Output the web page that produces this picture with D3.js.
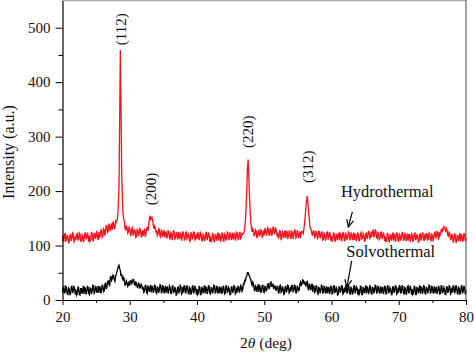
<!DOCTYPE html>
<html>
<head>
<meta charset="utf-8">
<script src="https://cdn.jsdelivr.net/npm/d3@7"></script>
<style>
  body { margin: 0; background: #fff; }
  svg text { font-family: "Liberation Serif", "DejaVu Serif", serif !important; }
</style>
</head>
<body>
<div id="chart"></div>
<script>
// 2theta grid: 20..80 deg, sampled every 0.1 deg
var thetaStart = 20, thetaStep = 0.1;

// Hydrothermal pattern (red), one row = 2 deg
var hydrothermal = [
  119,109,108,121,122,107,111,120,116,105,106,119,120,108,113,123,121,107,109,118,
  111,121,122,109,113,123,121,108,108,120,118,106,110,122,123,111,114,124,119,107,
  118,108,111,124,123,110,109,122,122,112,120,127,113,110,125,114,118,128,129,115,
  117,131,129,118,126,137,136,124,126,139,138,127,132,141,129,144,141,130,134,145,
  143,146,152,175,205,330,459,360,232,190,158,150,144,130,129,137,132,123,125,134,
  132,119,120,131,133,118,122,130,126,115,116,130,129,117,121,131,129,116,117,128,
  118,127,129,116,120,132,133,127,134,147,155,148,150,152,146,137,131,136,132,124,
  128,118,120,131,130,117,115,128,126,116,122,129,115,124,125,113,117,127,126,114,
  111,124,122,110,117,127,126,112,114,123,124,111,116,125,112,121,123,109,115,126,
  122,110,111,124,125,112,114,122,119,108,109,123,123,111,116,125,124,110,112,121,
  112,123,123,110,114,124,122,109,109,121,119,108,111,123,124,110,115,124,120,107,
  117,106,110,122,121,108,107,120,119,109,116,124,109,121,120,107,112,123,122,109,
  108,121,119,109,114,125,124,111,112,123,122,110,115,124,111,121,122,109,114,124,
  122,111,112,124,124,113,115,122,121,122,124,133,146,170,202,240,258,230,192,165,
  142,132,125,131,128,117,120,129,127,115,116,127,128,117,121,129,127,114,119,128,
  119,131,130,118,122,133,131,119,119,131,130,118,122,134,134,121,124,133,128,117,
  124,113,116,127,126,111,112,126,124,114,121,128,114,126,125,112,117,127,127,113,
  113,126,124,112,119,129,128,114,116,127,126,113,118,126,114,123,126,125,122,131,
  141,155,171,183,191,178,162,148,134,130,128,120,119,127,126,115,117,126,125,113,
  115,126,126,113,116,125,124,110,111,123,121,110,112,124,125,111,116,125,121,109,
  118,107,111,123,122,108,108,121,120,110,117,124,110,122,121,108,113,124,123,109,
  109,122,120,110,115,125,124,111,112,123,122,110,114,124,110,121,121,108,113,123,
  121,109,110,122,124,112,113,122,119,108,109,122,123,112,117,126,125,113,114,125,
  116,127,128,115,119,130,127,114,113,125,122,111,113,124,125,112,115,124,120,108,
  117,106,110,122,121,108,107,120,119,109,116,124,109,121,120,107,112,123,122,109,
  108,121,119,109,114,124,123,110,111,122,121,108,113,122,109,120,120,107,112,122,
  120,108,109,122,123,111,112,121,117,106,107,120,121,109,114,123,122,110,110,121,
  111,122,122,109,113,123,121,110,109,121,119,108,112,124,125,113,117,127,122,110,
  125,118,121,129,130,124,131,135,134,128,126,131,127,118,117,126,121,110,113,122,
  117,107,110,121,120,106,106,119,118,108,115,123,108,120,119,107,111,122,121,108,
  114
];

// Solvothermal pattern (black)
var solvothermal = [
  13,22,24,12,15,25,23,11,10,22,20,9,12,24,25,13,16,26,21,10,
  19,9,12,24,23,10,9,21,21,11,18,26,11,23,22,10,14,25,24,12,
  10,22,21,11,16,27,26,12,14,25,24,13,17,26,13,24,24,12,17,27,
  26,15,16,28,32,20,23,33,31,36,25,40,44,36,39,46,45,37,34,44,
  48,52,57,62,64,58,54,44,48,40,37,41,36,27,28,35,32,25,27,34,
  27,35,36,30,32,38,37,28,27,34,30,24,23,31,30,22,23,30,26,19,
  24,14,16,27,27,14,12,25,24,15,21,28,14,25,25,13,17,27,26,14,
  12,24,23,13,18,28,27,14,15,26,25,12,17,26,13,23,24,12,16,26,
  23,12,12,25,26,14,15,24,20,9,10,23,24,12,17,27,25,11,13,24,
  14,26,25,12,16,27,24,12,11,23,21,10,13,25,26,12,17,26,22,10,
  20,10,13,25,24,10,10,23,22,12,19,27,12,24,23,11,15,26,25,12,
  11,23,22,12,17,27,26,13,14,25,24,12,16,25,12,22,23,11,15,26,
  23,11,12,26,26,14,15,23,20,10,10,24,24,13,17,26,25,11,13,23,
  14,25,24,15,17,27,25,16,19,30,29,36,35,42,44,50,50,46,45,40,
  38,30,27,33,30,20,16,26,24,15,21,29,15,26,24,13,17,27,27,15,
  14,25,24,16,20,29,30,21,22,32,33,25,25,30,20,26,26,18,18,25,
  25,13,13,26,27,14,16,25,21,10,11,24,25,14,18,27,26,13,15,24,
  16,27,27,14,18,27,26,13,13,25,24,17,18,30,33,27,29,37,36,29,
  34,28,26,33,34,22,18,29,28,18,23,30,15,26,25,14,16,26,26,13,
  11,23,22,12,17,27,26,13,14,25,24,12,16,25,12,22,23,11,15,26,
  23,11,12,26,26,14,15,23,20,9,10,24,24,13,17,26,25,11,13,23,
  14,26,25,12,16,27,24,12,11,23,21,10,13,25,26,12,17,26,22,10,
  20,10,13,25,24,10,10,23,22,12,19,27,12,24,23,11,15,26,25,12,
  11,23,22,12,17,27,26,13,14,25,24,12,16,25,12,22,23,11,15,26,
  23,11,12,26,26,14,15,23,20,10,10,24,24,13,17,26,25,11,13,23,
  14,26,25,12,16,27,24,12,11,23,21,10,13,25,26,12,17,26,22,10,
  20,10,13,25,24,10,10,23,22,12,19,27,12,24,23,11,15,26,25,12,
  11,23,22,12,17,27,26,13,14,25,24,12,16,25,12,22,23,11,15,26,
  23,11,12,26,26,14,15,23,20,10,10,24,24,13,17,26,25,11,13,23,
  14,26,25,12,16,27,24,12,11,23,21,10,13,25,26,12,17,26,22,10,
  18
];

// peak labels: name, 2theta, intensity where the label starts
var peakNames = ["(112)", "(200)", "(220)", "(312)"];
var peakTheta = [28.6, 33.1, 47.6, 56.4];
var peakLabelAt = [468, 174, 279, 215];

var xTicks = [20, 30, 40, 50, 60, 70, 80];
var yTicks = [0, 100, 200, 300, 400, 500];

var width = 474, height = 353;
var serif = "'Liberation Serif', 'DejaVu Serif', serif";

var svg = d3.select("#chart")
    .append("svg")
    .attr("width", width)
    .attr("height", height);

var x = d3.scaleLinear().domain([20, 80]).range([62.5, 466]);
var y = d3.scaleLinear().domain([0, 550]).range([300, 0.5]);

// traces
var line = d3.line()
    .x(function(d, i) { return x(thetaStart + i * thetaStep); })
    .y(function(d) { return y(d); });

svg.append("path")
    .datum(hydrothermal)
    .attr("d", line)
    .attr("fill", "none")
    .attr("stroke", "#f0141c")
    .attr("stroke-width", 1.3);

svg.append("path")
    .datum(solvothermal)
    .attr("d", line)
    .attr("fill", "none")
    .attr("stroke", "#000")
    .attr("stroke-width", 1.3);

// frame (top and right)
svg.append("line")
    .attr("x1", x(20)).attr("x2", x(80))
    .attr("y1", 0.5).attr("y2", 0.5)
    .attr("stroke", "#aaa").attr("stroke-width", 1.5);
svg.append("line")
    .attr("x1", x(80)).attr("x2", x(80))
    .attr("y1", 0).attr("y2", y(0))
    .attr("stroke", "#444").attr("stroke-width", 1);

// x axis, major + minor ticks
svg.append("g")
    .attr("transform", "translate(0," + y(0) + ")")
    .call(d3.axisBottom(x).tickValues(d3.range(25, 80, 10)).tickSize(3).tickFormat(""))
    .call(function(g) { g.select(".domain").remove(); });

var xAxis = svg.append("g")
    .attr("transform", "translate(0," + y(0) + ")")
    .call(d3.axisBottom(x).tickValues(xTicks).tickSize(5).tickSizeOuter(0).tickPadding(6));
xAxis.attr("font-family", serif);
xAxis.selectAll("text").attr("font-size", "15px").attr("fill", "#111");

// y axis
svg.append("g")
    .attr("transform", "translate(" + x(20) + ",0)")
    .call(d3.axisLeft(y).tickValues(d3.range(50, 550, 100)).tickSize(4).tickFormat(""))
    .call(function(g) { g.select(".domain").remove(); });

var yAxis = svg.append("g")
    .attr("transform", "translate(" + x(20) + ",0)")
    .call(d3.axisLeft(y).tickValues(yTicks).tickSize(7).tickSizeOuter(0).tickPadding(5));
yAxis.attr("font-family", serif);
yAxis.selectAll("text").attr("font-size", "15px").attr("fill", "#111");

svg.selectAll(".domain").attr("stroke", "#000").attr("stroke-width", 1.2);

// axis titles
svg.append("text")
    .attr("transform", "translate(14," + 152 + ") rotate(-90)")
    .attr("text-anchor", "middle")
    .attr("font-size", "16px")
    .attr("fill", "#111")
    .text("Intensity (a.u.)");

var xt = svg.append("text")
    .attr("x", 266)
    .attr("y", 348)
    .attr("text-anchor", "middle")
    .attr("font-size", "15.5px")
    .attr("fill", "#111");
xt.append("tspan").text("2");
xt.append("tspan").attr("font-style", "italic").text("\u03B8");
xt.append("tspan").text(" (deg)");

// peak labels
peakNames.forEach(function(name, i) {
    svg.append("text")
        .attr("transform", "translate(" + x(peakTheta[i]) + "," + y(peakLabelAt[i]) + ") rotate(-90)")
        .attr("text-anchor", "start")
        .attr("dy", "0.35em")
        .attr("font-size", "15px")
        .attr("fill", "#111")
        .text(name);
});

// sample labels with arrows
function arrow(x1, y1, x2, y2) {
    svg.append("line")
        .attr("x1", x(x1)).attr("y1", y(y1))
        .attr("x2", x(x2)).attr("y2", y(y2))
        .attr("stroke", "#000").attr("stroke-width", 1.2);
    var ang = Math.atan2(y(y2) - y(y1), x(x2) - x(x1));
    var len = 8, spread = 0.45;
    var px = x(x2), py = y(y2);
    svg.append("path")
        .attr("d", "M" + (px - len * Math.cos(ang - spread)) + "," + (py - len * Math.sin(ang - spread)) +
            "L" + px + "," + py +
            "L" + (px - len * Math.cos(ang + spread)) + "," + (py - len * Math.sin(ang + spread)))
        .attr("fill", "none")
        .attr("stroke", "#000")
        .attr("stroke-width", 1.2);
}

svg.append("text")
    .attr("x", x(61.4)).attr("y", y(190))
    .attr("font-size", "16.5px").attr("fill", "#111")
    .text("Hydrothermal");
arrow(63.1, 162, 62.5, 134);

svg.append("text")
    .attr("x", x(62.2)).attr("y", y(79))
    .attr("font-size", "16.5px").attr("fill", "#111")
    .text("Solvothermal");
arrow(63.0, 72, 62.3, 24);
</script>
</body>
</html>
